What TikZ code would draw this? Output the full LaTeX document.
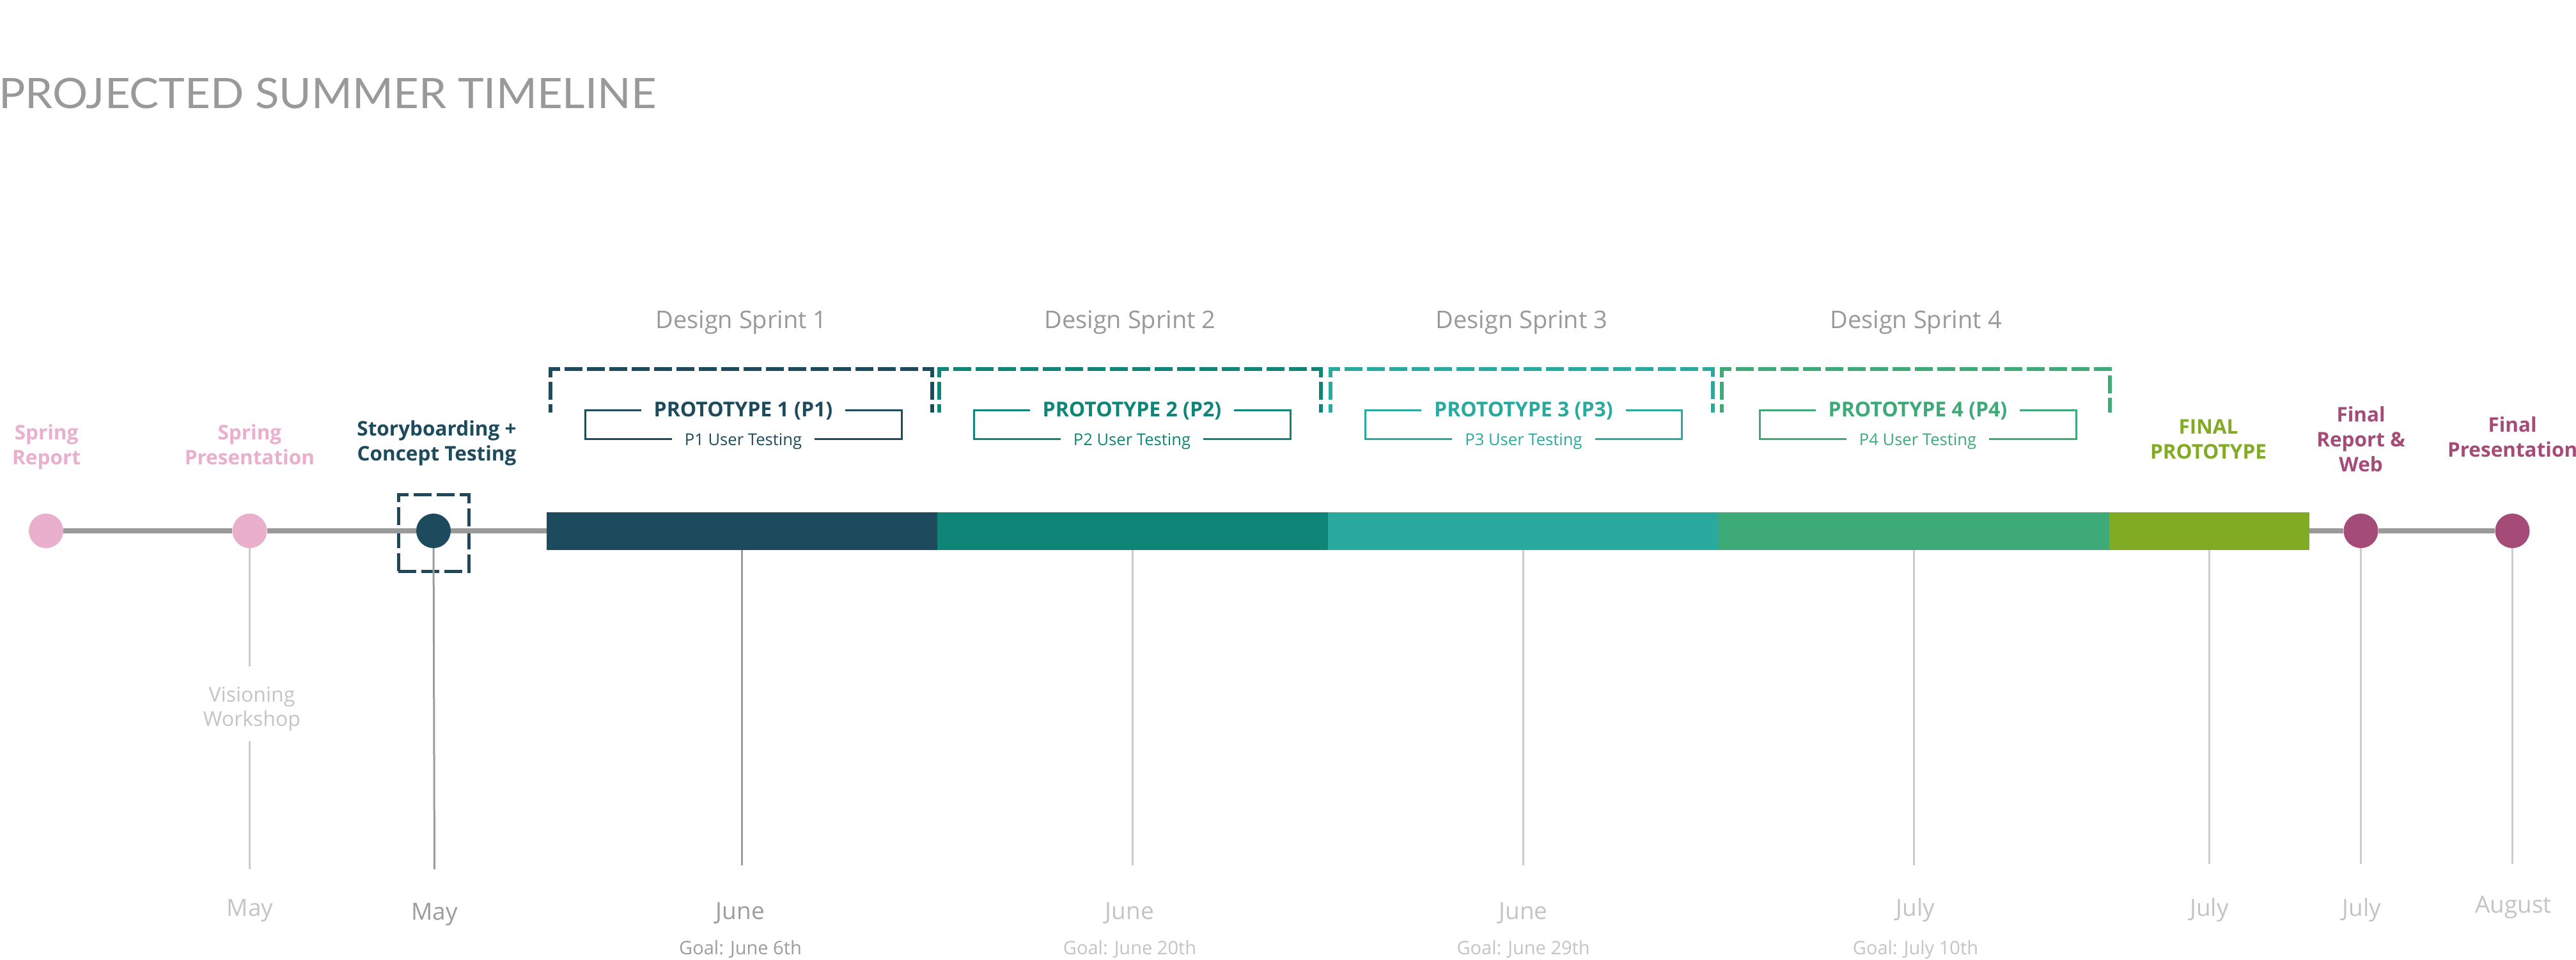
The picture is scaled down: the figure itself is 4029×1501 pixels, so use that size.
\documentclass[tikz,border=0pt]{standalone}
\usepackage{fontspec}
\setmainfont{Open Sans}
\newfontfamily\titlefont[FakeStretch=1.05]{Lato}
\usetikzlibrary{arrows.meta}

\definecolor{sprintone}{HTML}{1D4A5C}
\definecolor{sprinttwo}{HTML}{0E8576}
\definecolor{sprintthree}{HTML}{2AAA9E}
\definecolor{sprintfour}{HTML}{3DAA78}
\definecolor{finalgreen}{HTML}{80AB22}
\definecolor{springpink}{HTML}{E9AFCC}
\definecolor{finalplum}{HTML}{A54B78}
\definecolor{axisgray}{HTML}{999999}
\definecolor{darkgray}{HTML}{9C9C9C}
\definecolor{softgray}{HTML}{C4C4C4}
\definecolor{ticksoft}{HTML}{CCCCCC}

\begin{document}
\begin{tikzpicture}[x=1pt, y=-1pt, line cap=butt,
    milestone/.style={circle, fill=#1, minimum size=54pt, inner sep=0pt},
    barseg/.style={rectangle, fill=#1, minimum height=59pt, inner sep=0pt, outer sep=0pt},
    headlabel/.style={text=#1, font=\fontsize{31.5}{39}\selectfont\bfseries, align=center, anchor=base, inner sep=0pt},
    sprintlabel/.style={text=axisgray, font=\fontsize{38}{46}\selectfont, anchor=base, inner sep=0pt},
    protolabel/.style={text=#1, fill=white, font=\fontsize{32}{38}\selectfont\bfseries, anchor=base, inner xsep=20pt, inner ysep=2pt},
    testlabel/.style={text=#1, fill=white, font=\fontsize{25.6}{30}\selectfont, anchor=base, inner xsep=20pt, inner ysep=2pt},
    monthlabel/.style={text=#1, font=\fontsize{37}{44}\selectfont, anchor=base, inner sep=0pt},
    goallabel/.style={text=#1, font=\fontsize{29}{35}\selectfont, anchor=base, inner sep=0pt},
    timeaxis/.style={draw=axisgray, line width=8pt},
    tickline/.style={draw=#1, line width=2.5pt},
    sprintbracket/.style={draw=#1, line width=6pt, dash pattern=on 28pt off 7pt, dash phase=15pt},
    protobox/.style={draw=#1, line width=3pt},
  ]

  %% ════ title ════
  \node[anchor=base west, inner sep=0pt, text=axisgray, font=\titlefont\fontsize{65.6}{70}\selectfont] (title) at (-2,169) {PROJECTED SUMMER TIMELINE};

  %% ════ bar segments ════
  \node[barseg=sprintone,   minimum width=611pt] (bar1) at (1160.5,830) {};
  \node[barseg=sprinttwo,   minimum width=611pt] (bar2) at (1771.5,830) {};
  \node[barseg=sprintthree, minimum width=611pt] (bar3) at (2382.5,830) {};
  \node[barseg=sprintfour,  minimum width=611pt] (bar4) at (2993.5,830) {};
  \node[barseg=finalgreen,  minimum width=313pt] (bar5) at (3455.5,830) {};

  %% ════ milestones ════
  \node[milestone=springpink] (springrep)  at (72,830) {};
  \node[milestone=springpink] (springpres) at (390.5,830) {};
  \node[milestone=sprintone]  (story)      at (678,830) {};
  \node[milestone=finalplum]  (finalrep)   at (3692.5,830) {};
  \node[milestone=finalplum]  (finalpres)  at (3929.5,830) {};
  \node[draw=sprintone, line width=5pt, dash pattern=on 28pt off 8pt, minimum width=110pt, minimum height=120pt, inner sep=0pt] (storyfocus) at (678,833) {};

  %% ════ axis ════
  \draw[timeaxis] (springrep) -- (springpres);
  \draw[timeaxis] (springpres) -- (story);
  \draw[timeaxis] (story) -- (bar1.west);
  \draw[timeaxis] (bar5.east) -- (finalrep);
  \draw[timeaxis] (finalrep) -- (finalpres);

  %% ════ ticks ════
  \coordinate (visiotop) at (390.5,1042);
  \coordinate (visiobot) at (390.5,1159);
  \coordinate (mayend)   at (390.5,1359);
  \coordinate (storyend) at (679.5,1359);
  \coordinate (oneend)   at (1160.5,1353);
  \coordinate (twoend)   at (1771.5,1353);
  \coordinate (threeend) at (2382.5,1353);
  \coordinate (fourend)  at (2993.5,1353);
  \coordinate (fiveend)  at (3455.5,1351);
  \coordinate (repend)   at (3692.5,1351);
  \coordinate (presend)  at (3929.5,1351);
  \draw[tickline=ticksoft] (springpres) -- (visiotop);
  \draw[tickline=ticksoft] (visiobot) -- (mayend);
  \draw[tickline=darkgray, line width=3pt] (story) -- (storyend);
  \draw[tickline=darkgray] (bar1) -- (oneend);
  \draw[tickline=ticksoft] (bar2) -- (twoend);
  \draw[tickline=ticksoft] (bar3) -- (threeend);
  \draw[tickline=ticksoft] (bar4) -- (fourend);
  \draw[tickline=ticksoft] (bar5) -- (fiveend);
  \draw[tickline=ticksoft] (finalrep) -- (repend);
  \draw[tickline=ticksoft] (finalpres) -- (presend);

  %% ════ sprints ════
  \foreach \i/\l/\r/\c in {1/861/1458/sprintone, 2/1469/2066/sprinttwo, 3/2081/2679/sprintthree, 4/2693/3300/sprintfour}{
    \draw[sprintbracket=\c] (\l,645) -- (\l,577) -- (\r,577) -- (\r,645);
    \node[sprintlabel] (sprint\i) at ({(\l+\r)/2},513) {Design Sprint \i};
    \draw[protobox=\c] ({(\l+\r)/2-244.5},641.7) rectangle ({(\l+\r)/2+250.5},686.7);
    \node[protolabel=\c] (proto\i) at ({(\l+\r)/2+3},651.7) {PROTOTYPE \i\ (P\i)};
    \node[testlabel=\c] (test\i) at ({(\l+\r)/2+3},696) {P\i\ User Testing};
  }

  %% ════ labels above (base = last line) ════
  \node[headlabel=springpink] (springreplab)  at (72.6,726.7)   {Spring\\Report};
  \node[headlabel=springpink] (springpreslab) at (390.4,726.7)  {Spring\\Presentation};
  \node[headlabel=sprintone]  (storylab)      at (683,720)      {Storyboarding +\\Concept Testing};
  \node[headlabel=finalgreen] (protolab)      at (3454,717)     {FINAL\\PROTOTYPE};
  \node[headlabel=finalplum]  (finalreplab)   at (3692.6,737)   {Final\\Report \&\\Web};
  \node[headlabel=finalplum]  (finalpreslab)  at (3929.6,714)   {Final\\Presentation};

  %% ════ labels below ════
  \node[anchor=base, inner sep=0pt, align=center, text=softgray, font=\fontsize{32}{38}\selectfont] (visio) at (394,1135) {Visioning\\Workshop};
  \node[monthlabel=softgray] (may1)  at (391,1432)    {May};
  \node[monthlabel=darkgray] (may2)  at (679.5,1438)  {May};
  \node[monthlabel=darkgray] (june1) at (1158,1437)   {June};
  \node[goallabel=darkgray]  (goal1) at (1158,1492)   {Goal: June 6th};
  \node[monthlabel=softgray] (june2) at (1767,1437)   {June};
  \node[goallabel=softgray]  (goal2) at (1767,1492)   {Goal: June 20th};
  \node[monthlabel=softgray] (june3) at (2382.6,1437) {June};
  \node[goallabel=softgray]  (goal3) at (2382.6,1492) {Goal: June 29th};
  \node[monthlabel=softgray] (july1) at (2996,1432)   {July};
  \node[goallabel=softgray]  (goal4) at (2996,1492)   {Goal: July 10th};
  \node[monthlabel=softgray] (july2) at (3455.6,1432) {July};
  \node[monthlabel=softgray] (july3) at (3693.8,1432) {July};
  \node[monthlabel=softgray] (aug)   at (3931,1427)   {August};

  \pgfresetboundingbox
  \path[use as bounding box] (0,0) rectangle (4029,1501);
\end{tikzpicture}
\end{document}
